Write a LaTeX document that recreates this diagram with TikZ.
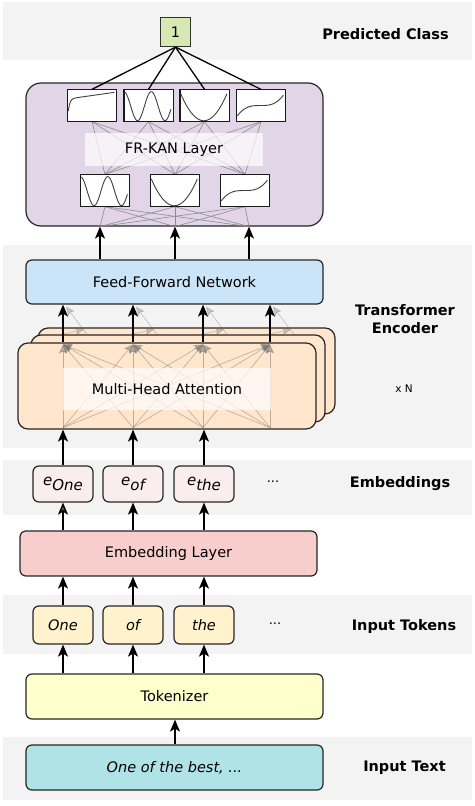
\documentclass[tikz,border=0pt]{standalone}
\usepackage{fontspec}
\setmainfont{DejaVu Sans}
\usetikzlibrary{arrows.meta,calc}
\definecolor{band}{HTML}{F3F3F3}
\definecolor{predc}{HTML}{D7E9B2}
\definecolor{kanc}{HTML}{E1D5E7}
\definecolor{ffnc}{HTML}{CCE4F8}
\definecolor{attc}{HTML}{FFE6CC}
\definecolor{embbc}{HTML}{FAEDED}
\definecolor{embc}{HTML}{F8CECC}
\definecolor{tokc}{HTML}{FFF2CC}
\definecolor{tokzc}{HTML}{FFFFCC}
\definecolor{inpc}{HTML}{B0E3E6}
\tikzset{
  box/.style={draw=black!85, line width=1.2pt, rounded corners=6pt, inner sep=0pt,
    font=\fontsize{14.5}{16}\selectfont},
  fnbox/.style={draw=black!90, line width=1.3pt, fill=white, minimum width=48pt,
    minimum height=31pt, inner sep=0pt},
  arr/.style={-{Stealth[length=12pt,width=10pt,inset=3pt]}, line width=1.4pt},
  sidelbl/.style={font=\bfseries\fontsize{14.5}{18}\selectfont, align=center},
  crv/.style={draw=black!75, line width=0.9pt},
  kanline/.style={draw=black!45, line width=0.6pt},
  fan/.style={draw=black!60, opacity=0.45, line width=0.6pt,
    -{Stealth[length=9pt,width=8pt,inset=2pt]}},
  ghost/.style={draw=black!60, opacity=0.3, line width=0.8pt,
    -{Stealth[length=9pt,width=8pt,inset=2pt]}},
  veil/.style={fill=white, fill opacity=0.7, draw=none, inner sep=0pt,
    text opacity=1, font=\fontsize{14.5}{16}\selectfont}
}
\newcommand\fncurve[2]{%
  \begin{scope}[shift={(#1.south west)}, x=48pt, y=31pt]
    \draw[crv] plot[smooth, domain=0.02:0.98, samples=40] (\x, {#2});
  \end{scope}}
\begin{document}
\begin{tikzpicture}[x=1pt,y=-1pt]
\useasboundingbox (0,0) rectangle (474,806);
\fill[white] (0,0) rectangle (474,806);
% bands
\fill[band] (3,2) rectangle (472,60);
\fill[band] (3,245) rectangle (472,448);
\fill[band] (3,460) rectangle (472,515);
\fill[band] (3,595) rectangle (472,654);
\fill[band] (3,737) rectangle (472,800);

% x positions
\coordinate (k1) at (100,0);
\coordinate (k2) at (175,0);
\coordinate (k3) at (249,0);
\coordinate (a1) at (63,0);
\coordinate (a2) at (133,0);
\coordinate (a3) at (203,0);
\coordinate (a4) at (270,0);

% ---------- Predicted class & KAN ----------
\node[draw=black!80, line width=1.2pt, fill=predc, minimum width=30pt, minimum height=29pt,
  inner sep=0pt, font=\fontsize{14.5}{16}\selectfont] (pred) at (175.5,32) {1};
\node[box, rounded corners=15pt, fill=kanc, minimum width=297pt, minimum height=143pt]
  (kan) at (174.5,154.5) {};

\node[fnbox] (t1) at (92,105.5) {};
\node[fnbox] (t2) at (148.5,105.5) {};
\node[fnbox] (t3) at (204.5,105.5) {};
\node[fnbox] (t4) at (261,105.5) {};
\node[fnbox] (b1) at (105,190.5) {};
\node[fnbox] (b2) at (175,190.5) {};
\node[fnbox] (b3) at (245,190.5) {};

% internal connections
\foreach \i in {1,2,3} \foreach \j in {1,2,3,4}
  \draw[kanline] (b\i.north) -- (t\j.south);
\foreach \i in {1,2,3} \foreach \j in {1,2,3}
  \draw[kanline] (b\i.south) -- (kan.south -| k\j);

\node[veil, minimum width=178pt, minimum height=33pt] (kanlbl) at (174,149.5) {FR-KAN Layer};

% redraw function boxes over lines
\foreach \n in {t1,t2,t3,t4,b1,b2,b3} \draw[draw=black!90, line width=1.3pt, fill=white]
  (\n.south west) rectangle (\n.north east);

\fncurve{t1}{0.03+0.7*(1-exp(-30*\x))+0.22*\x}
\fncurve{t2}{0.5+0.47*cos(630*\x)}
\fncurve{t3}{0.03+0.94*(2*\x-1)*(2*\x-1)}
\fncurve{t4}{0.52+0.38*(2*\x-1)*(2*\x-1)*(2*\x-1)}
\fncurve{b1}{0.5+0.47*cos(630*\x)}
\fncurve{b2}{0.03+0.94*(2*\x-1)*(2*\x-1)}
\fncurve{b3}{0.52+0.38*(2*\x-1)*(2*\x-1)*(2*\x-1)}

\foreach \j in {1,2,3,4} \draw[line width=1.3pt] (t\j.north) -- (pred.south);

% ---------- Transformer encoder ----------
\node[box, fill=ffnc, minimum width=297pt, minimum height=44pt] (ffn) at (174.5,282)
  {Feed-Forward Network};
\node[box, rounded corners=10pt, fill=attc, minimum width=297pt, minimum height=86pt]
  (att3) at (186.5,371) {};
\node[box, rounded corners=10pt, fill=attc, minimum width=294pt, minimum height=87pt]
  (att2) at (178,378.5) {};
\foreach \i in {1,2,3,4} {
  \draw[ghost] ($(att2.north -| a\i)+(24,0)$) -- ($(ffn.south -| a\i)+(3,2)$);
  \draw[ghost] ($(att2.north -| a\i)+(-2,0)$) -- ($(att3.north -| a\i)+(21,2)$);
}
\node[box, rounded corners=10pt, fill=attc, minimum width=298pt, minimum height=86pt]
  (att1) at (167,386) {};
\foreach \i in {1,2,3,4} \foreach \j in {1,2,3,4}
  \draw[fan] ($(att1.south -| a\i)+(0,-2)$) -- ($(att1.north -| a\j)+(0,2)$);
\node[veil, minimum width=208pt, minimum height=42pt] (attlbl) at (167,389)
  {Multi-Head Attention};
\foreach \i in {1,2,3,4}
  \draw[arr] (att1.north -| a\i) -- (ffn.south -| a\i);
\foreach \i in {1,2,3}
  \draw[arr] (ffn.north -| k\i) -- (kan.south -| k\i);

% ---------- Embeddings ----------
\node[box, fill=embbc, minimum width=60pt, minimum height=36pt] (e1) at (63,484)
  {\fontsize{15}{16}\selectfont\itshape e\raisebox{-5pt}{One}};
\node[box, fill=embbc, minimum width=60pt, minimum height=36pt] (e2) at (133,484)
  {\fontsize{15}{16}\selectfont\itshape e\raisebox{-5pt}{of}};
\node[box, fill=embbc, minimum width=60pt, minimum height=36pt] (e3) at (204,484)
  {\fontsize{15}{16}\selectfont\itshape e\raisebox{-5pt}{the}};
\node[font=\fontsize{13}{14}\selectfont] (edots) at (273,482) {...};
\foreach \i in {1,2,3}
  \draw[arr] (e\i.north) -- (att1.south -| e\i);

\node[box, fill=embc, minimum width=297pt, minimum height=45pt] (emb) at (168.5,553.5)
  {Embedding Layer};
\draw[arr, -{Stealth[length=12pt,width=10pt,inset=3pt,fill=black!65]}] (emb.north -| e1) -- (e1.south);
\draw[arr] (emb.north -| e2) -- (e2.south);
\draw[arr] (emb.north -| e3) -- (e3.south);

% ---------- Tokens ----------
\node[box, fill=tokc, minimum width=60pt, minimum height=38pt] (tk1) at (63,625) {\itshape One};
\node[box, fill=tokc, minimum width=60pt, minimum height=38pt] (tk2) at (133,625) {\itshape of};
\node[box, fill=tokc, minimum width=60pt, minimum height=38pt] (tk3) at (204,625) {\itshape the};
\node[font=\fontsize{13}{14}\selectfont] (tdots) at (275,624) {...};
\foreach \i in {1,2,3}
  \draw[arr] (tk\i.north) -- (emb.south -| tk\i);

\node[box, fill=tokzc, minimum width=297pt, minimum height=45pt] (tokz) at (174.5,696.5)
  {Tokenizer};
\foreach \i in {1,2,3}
  \draw[arr] (tokz.north -| tk\i) -- (tk\i.south);

\node[box, fill=inpc, minimum width=297pt, minimum height=45pt] (inp) at (174.5,767.5)
  {\itshape One of the best, ...};
\draw[arr] (inp.north -| k2) -- (tokz.south -| k2);

% ---------- side labels ----------
\node[sidelbl] (lpred) at (385.5,34) {Predicted Class};
\node[sidelbl] (lenc) at (405,319) {Transformer\\Encoder};
\node[font=\fontsize{10.5}{12}\selectfont] (lxn) at (404,389) {x N};
\node[sidelbl] (lemb) at (400,484) {Embeddings};
\node[sidelbl] (ltok) at (404,626) {Input Tokens};
\node[sidelbl] (ltxt) at (404.5,768) {Input Text};
\end{tikzpicture}
\end{document}
